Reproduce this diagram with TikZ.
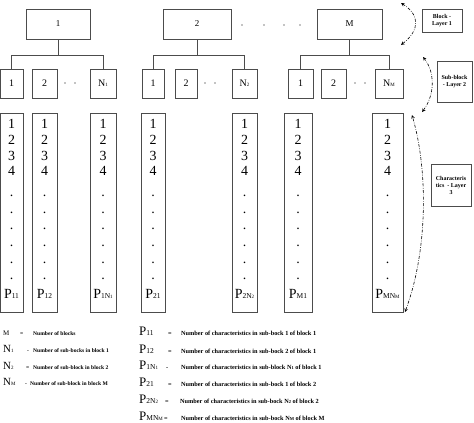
\documentclass[tikz,border=0pt]{standalone}
\usepackage{fontspec}
\setmainfont{Liberation Serif}
\usetikzlibrary{shapes,arrows}
\definecolor{boxline}{rgb}{0.3,0.3,0.3}
\tikzstyle{blockbox}=[draw=boxline,line width=0.9bp,minimum width=64bp,minimum height=30bp,inner sep=0pt,font=\fontsize{9}{9}\selectfont]
\tikzstyle{subbox}=[draw=boxline,line width=0.9bp,minimum width=25bp,minimum height=29bp,inner sep=0pt,font=\fontsize{10}{10}\selectfont]
\tikzstyle{colbox}=[draw=boxline,line width=0.9bp,minimum width=25bp,minimum height=199bp,inner sep=0pt]
\tikzstyle{colitems}=[anchor=north,align=center,inner sep=0pt,font=\fontsize{14}{15.7}\selectfont]
\tikzstyle{layerbox}=[draw=boxline,line width=0.9bp,inner sep=0pt,align=center,font=\fontsize{6}{7}\selectfont\bfseries]
\tikzstyle{legsym}=[anchor=base west,inner sep=0pt,font=\fontsize{13}{13}\selectfont]
\tikzstyle{legtxt}=[anchor=base west,inner sep=0pt,font=\fontsize{5.6}{6}\selectfont\bfseries]
\tikzstyle{legtxtp}=[legtxt,font=\fontsize{6.3}{6.5}\selectfont\bfseries]
\tikzstyle{treeline}=[boxline,line width=0.9bp]
\tikzstyle{layerarrow}=[black,line width=0.6bp,dash pattern=on 3bp off 1.5bp on 0.6bp off 1.5bp,stealth-stealth]
\newcommand{\subtxt}[1]{{\fontsize{7.5}{7.5}\selectfont #1}}
\newcommand{\subsub}[1]{{\fontsize{5}{5}\selectfont #1}}
\newcommand{\colitemlist}[1]{1\\2\\3\\4\\[5bp].\\[1bp].\\[1bp].\\[1bp].\\[1bp].\\[1bp].\\[3bp]#1}

\begin{document}
\begin{tikzpicture}[x=1bp,y=-1bp]
\useasboundingbox (0,0) rectangle (474,422);
% blocks - layer 1
\node[blockbox] (b1) at (58,24) {1};
\node[blockbox,minimum width=68bp] (b2) at (197,24) {2};
\node[blockbox,minimum width=65bp] (bM) at (349.5,24) {M};
\fill (242,25) circle (0.7bp) (264,25) circle (0.7bp) (284,25) circle (0.7bp) (300,25) circle (0.7bp);
% sub-blocks - layer 2
\node[subbox,minimum width=23bp] (s11) at (11.5,83.5) {1};
\node[subbox] (s12) at (44.5,83.5) {2};
\node[subbox,minimum width=26bp] (s1n) at (103,83.5) {N\subsub{1}};
\node[subbox,minimum width=22bp] (s21) at (153,83.5) {1};
\node[subbox,minimum width=22bp] (s22) at (186,83.5) {2};
\node[subbox] (s2n) at (244.5,83.5) {N\subsub{2}};
\node[subbox] (sM1) at (300.5,83.5) {1};
\node[subbox] (sM2) at (333.5,83.5) {2};
\node[subbox,minimum width=28bp] (sMn) at (389,83.5) {N\subsub{M}};
\fill (65,83) circle (0.7bp) (75,83) circle (0.7bp);
\fill (205,83) circle (0.7bp) (215,83) circle (0.7bp);
\fill (355,83) circle (0.7bp) (365,83) circle (0.7bp);
\draw[treeline] (b1.south) -- ++(0,16) coordinate (j1);
\draw[treeline] (s11.north) |- (j1) -| (s1n.north);
\draw[treeline] (b2.south) -- ++(0,16) coordinate (j2);
\draw[treeline] (s21.north) |- (j2) -| (s2n.north);
\draw[treeline] (bM.south) -- ++(0,16) coordinate (jM);
\draw[treeline] (sM1.north) |- (jM) -| (sMn.north);
% characteristics - layer 3
\node[colbox,minimum width=23bp] (c11) at (11.5,212.5) {};
\node[colbox] (c12) at (44.5,212.5) {};
\node[colbox,minimum width=26bp] (c1n) at (103,212.5) {};
\node[colbox,minimum width=24bp] (c21) at (153,212.5) {};
\node[colbox] (c2n) at (244.5,212.5) {};
\node[colbox,minimum width=28bp] (cM1) at (298,212.5) {};
\node[colbox,minimum width=31bp] (cMn) at (387.5,212.5) {};
\node[colitems] (t11) at ([yshift=-7bp]c11.north) {\colitemlist{P\subtxt{11}}};
\node[colitems] (t12) at ([yshift=-7bp]c12.north) {\colitemlist{P\subtxt{12}}};
\node[colitems] (t1n) at ([yshift=-7bp]c1n.north) {\colitemlist{P\subtxt{1N}\subsub{1}}};
\node[colitems] (t21) at ([yshift=-7bp]c21.north) {\colitemlist{P\subtxt{21}}};
\node[colitems] (t2n) at ([yshift=-7bp]c2n.north) {\colitemlist{P\subtxt{2N}\subsub{2}}};
\node[colitems] (tM1) at ([yshift=-7bp]cM1.north) {\colitemlist{P\subtxt{M1}}};
\node[colitems] (tMn) at ([yshift=-7bp]cMn.north) {\colitemlist{P\subtxt{MN}\subsub{M}}};
% layer labels
\node[layerbox,minimum width=40bp,minimum height=23bp] (lay1) at (442,20.5) {Block -\\Layer 1};
\node[layerbox,minimum width=35bp,minimum height=41bp] (lay2) at (454.5,81.5) {Sub-block\\- Layer 2};
\node[layerbox,minimum width=40bp,minimum height=42bp] (lay3) at (451,185) {Characteris\\tics\ \ - Layer\\3};
\coordinate (a1s) at (401,45);
\coordinate (a1e) at (401,3);
\coordinate (a2s) at (422,112);
\coordinate (a2e) at (423,57);
\coordinate (a3s) at (405,312);
\coordinate (a3e) at (412,115);
\draw[layerarrow] (a1s) .. controls (420,30) and (420,15) .. (a1e);
\draw[layerarrow] (a2s) .. controls (435,95) and (435,72) .. (a2e);
\draw[layerarrow] (a3s) .. controls (428,250) and (428,170) .. (a3e);
% legend
\node[legsym,font=\fontsize{7}{7}\selectfont] (lM) at (3,335) {M};
\node[legtxt] (lMeq) at (20,335) {=};
\node[legtxt] (lMtx) at (33,335) {Number of blocks};
\node[legsym,font=\fontsize{11}{11}\selectfont] (lN1) at (3,352) {N\subsub{1}};
\node[legtxt] (lN1eq) at (27,352) {-};
\node[legtxt] (lN1tx) at (33,352) {Number of sub-bocks in block 1};
\node[legsym,font=\fontsize{11}{11}\selectfont] (lN2) at (3,369) {N\subsub{2}};
\node[legtxt] (lN2eq) at (26,369) {=};
\node[legtxt] (lN2tx) at (33,369) {Number of sub-block in block 2};
\node[legsym,font=\fontsize{11}{11}\selectfont] (lNM) at (3,385) {N\subsub{M}};
\node[legtxt] (lNMeq) at (25,385) {-};
\node[legtxt] (lNMtx) at (30,385) {Number of sub-block in block M};
\node[legsym] (lP11) at (139,335) {P\subtxt{11}};
\node[legtxtp] (lP11eq) at (168,335) {=};
\node[legtxtp] (lP11tx) at (181,335) {Number of characteristics in sub-bock 1 of block 1};
\node[legsym] (lP12) at (139,353) {P\subtxt{12}};
\node[legtxtp] (lP12eq) at (168,353) {=};
\node[legtxtp] (lP12tx) at (181,353) {Number of characteristics in sub-bock 2 of block 1};
\node[legsym] (lP1n) at (139,369.5) {P\subtxt{1N}\subsub{1}};
\node[legtxtp] (lP1neq) at (166,369.5) {-};
\node[legtxtp] (lP1ntx) at (181,369.5) {Number of characteristics in sub-block N{\fontsize{4.5}{4.5}\selectfont 1} of block 1};
\node[legsym] (lP21) at (139,386) {P\subtxt{21}};
\node[legtxtp] (lP21eq) at (168,386) {=};
\node[legtxtp] (lP21tx) at (181,386) {Number of characteristics in sub-bock 1 of block 2};
\node[legsym] (lP2n) at (139,403) {P\subtxt{2N}\subsub{2}};
\node[legtxtp] (lP2neq) at (165,403) {=};
\node[legtxtp] (lP2ntx) at (180,403) {Number of characteristics in sub-bock N{\fontsize{4.5}{4.5}\selectfont 2} of block 2};
\node[legsym] (lPMn) at (139,420) {P\subtxt{MN}\subsub{M}};
\node[legtxtp] (lPMneq) at (164,420) {=};
\node[legtxtp] (lPMntx) at (181,420) {Number of characteristics in sub-bock N{\fontsize{4.5}{4.5}\selectfont M} of block M};
\end{tikzpicture}
\end{document}
